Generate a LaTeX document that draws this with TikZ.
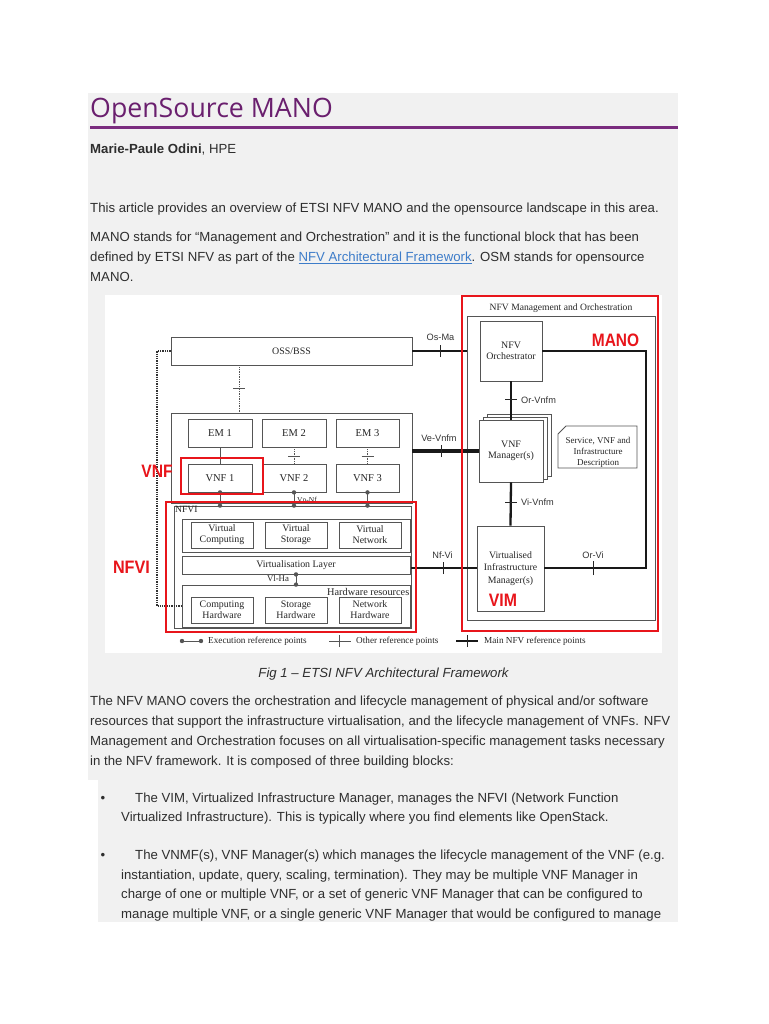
\documentclass[tikz,border=0pt]{standalone}
\usepackage{fontspec}
\setmainfont{Liberation Sans}
\newfontfamily\titlefont{Open Sans}
\newfontfamily\figserif{Liberation Serif}
\usetikzlibrary{calc}
\definecolor{pagegrey}{HTML}{F1F1F1}
\definecolor{txt}{HTML}{2E2E2E}
\definecolor{purp}{HTML}{6A1F6E}
\definecolor{purpline}{HTML}{7A2C7E}
\definecolor{linkblue}{HTML}{3D7CC9}
\definecolor{boxline}{HTML}{555555}
\definecolor{redhl}{HTML}{E8151B}
\newcommand\rbx[7][]{\node[box,#1,minimum width={(#5-#3)*1pt},minimum height={(#6-#4)*1pt}] (#2) at ({(#3+#5)/2},{(#4+#6)/2}) {#7};}
\begin{document}
\begin{tikzpicture}[x=1pt,y=-1pt,
 body/.style={anchor=base west, inner sep=0, text=txt, font=\fontsize{13.2}{16}\selectfont},
 box/.style={draw=boxline, line width=0.8pt, inner sep=0, align=center, text=black!85, font=\figserif\fontsize{9.9}{11}\selectfont},
 hlbox/.style={draw=redhl, line width=2.2pt},
 hllabel/.style={text=redhl, inner sep=0, font=\bfseries\fontsize{18}{18}\selectfont},
 mainref/.style={line width=2.3pt, draw=black!90},
 otherref/.style={draw=boxline, line width=0.7pt, densely dotted},
 execref/.style={draw=boxline, line width=0.9pt},
 tickline/.style={draw=black!85, line width=0.9pt},
 reflabel/.style={inner sep=0, text=black!80, font=\fontsize{9.2}{10}\selectfont},
 figtext/.style={inner sep=0, text=black!85, font=\figserif\fontsize{9.2}{10}\selectfont},
 dotend/.style={circle, fill=boxline, inner sep=0, minimum size=4.4pt},
]
\useasboundingbox (0,0) rectangle (768,1024);
\fill[white] (0,0) rectangle (768,1024);
\fill[pagegrey] (88,93) rectangle (678,780);
\fill[pagegrey] (98,780) rectangle (678,922);

% ---------- heading ----------
\node[anchor=base west, inner sep=0, text=purp, font=\titlefont\fontsize{26.7}{30}\selectfont] (title) at (90,117.5) {OpenSource MANO};
\coordinate (ruleL) at (90,127.5);
\coordinate (ruleR) at (678,127.5);
\draw[purpline, line width=3pt] (ruleL) -- (ruleR);
\node[body] (author) at (90,153.5) {\textbf{Marie-Paule Odini}, HPE};

\node[body] (p1) at (90,212.5) {This article provides an overview of ETSI NFV MANO and the opensource landscape in this area.};
\node[body] (p2a) at (90,241.5) {MANO stands for “Management and Orchestration” and it is the functional block that has been};
\node[body] (p2b) at (90,261.5) {defined by ETSI NFV as part of the \textcolor{linkblue}{\underline{NFV Architectural Framework}}. OSM stands for opensource};
\node[body] (p2c) at (90,281.5) {MANO.};

% ---------- figure ----------
\fill[white] (105,295) rectangle (662,653);

% left side
\rbx{oss}{171}{337}{412}{365}{OSS/BSS}
\rbx{vnfc}{171}{413}{412}{503}{}
\rbx[font=\figserif\fontsize{10.5}{12}\selectfont]{em1}{188}{419}{252}{447}{EM 1}
\rbx[font=\figserif\fontsize{10.5}{12}\selectfont]{em2}{262}{419}{326}{447}{EM 2}
\rbx[font=\figserif\fontsize{10.5}{12}\selectfont]{em3}{336}{419}{399}{447}{EM 3}
\rbx[font=\figserif\fontsize{10.5}{12}\selectfont]{vnf1}{188}{464}{252}{492}{VNF 1}
\rbx[font=\figserif\fontsize{10.5}{12}\selectfont]{vnf2}{262}{464}{326}{492}{VNF 2}
\rbx[font=\figserif\fontsize{10.5}{12}\selectfont]{vnf3}{336}{464}{399}{492}{VNF 3}
\rbx{nfvi}{174}{506}{411}{628}{}
\rbx{vres}{182}{519}{410}{552}{}
\rbx{vcomp}{191}{522}{253}{548}{Virtual\\Computing}
\rbx{vstor}{265}{522}{327}{548}{Virtual\\Storage}
\rbx{vnet}{339}{522}{401}{548}{Virtual\\Network}
\rbx{vlayer}{182}{556}{410}{574}{Virtualisation Layer}
\rbx{hwres}{182}{585}{410}{627}{}
\rbx{chw}{191}{597}{253}{623}{Computing\\Hardware}
\rbx{shw}{265}{597}{327}{623}{Storage\\Hardware}
\rbx{nhw}{339}{597}{401}{623}{Network\\Hardware}
\node[figtext, anchor=north west, font=\figserif\fontsize{9.6}{10}\selectfont] (nfvilbl) at (175,506.5) {NFVI};
\node[figtext, anchor=east, fill=white, inner xsep=1pt, font=\figserif\fontsize{10.3}{11}\selectfont] (hwlbl) at (410.5,591.5) {Hardware resources};

% MANO side
\rbx{manoin}{467}{316}{655}{620}{}
\node[figtext, font=\figserif\fontsize{9.6}{10}\selectfont] (manotitle) at (561,308) {NFV Management and Orchestration};
\rbx{orch}{480}{321}{542}{381}{NFV\\Orchestrator}
\rbx[fill=white]{vnfmb2}{487}{414}{551}{476}{}
\rbx[fill=white]{vnfmb1}{483}{417}{547}{479}{}
\rbx[fill=white]{vnfm}{479}{420}{543}{482}{VNF\\Manager(s)}
\coordinate (dA) at (566,426);
\coordinate (dB) at (637,426);
\coordinate (dC) at (637,468);
\coordinate (dD) at (558,468);
\coordinate (dE) at (558,434);
\draw[boxline, line width=0.8pt] (dA) -- (dB) -- (dC) -- (dD) -- (dE) -- cycle;
\node[figtext, align=center, font=\figserif\fontsize{9}{11}\selectfont] (desc) at (598,452) {Service, VNF and\\Infrastructure\\Description};
\rbx[font=\figserif\fontsize{9.8}{12.5}\selectfont]{vim}{477}{526}{544}{611}{Virtualised\\Infrastructure\\Manager(s)}

% ---------- reference points ----------
% Os-Ma
\draw[mainref, line width=2.8pt] (oss.east) -- (oss.east -| manoin.west);
\coordinate (tOsMa) at (440,351);
\draw[tickline] ([yshift=-6pt]tOsMa) -- ([yshift=6pt]tOsMa);
\node[reflabel] (lOsMa) at (440.5,337.5) {Os-Ma};
% Ve-Vnfm
\coordinate (yVe) at (0,451);
\draw[mainref, line width=4pt] (vnfc.east |- yVe) -- (vnfm.west |- yVe);
\coordinate (tVe) at (441,451);
\draw[tickline] ([yshift=-6pt]tVe) -- ([yshift=6pt]tVe);
\node[reflabel] (lVe) at (439,438) {Ve-Vnfm};
% Nf-Vi
\coordinate (yVi) at (0,568);
\draw[mainref] (nfvi.east |- yVi) -- (vim.west |- yVi);
\coordinate (tNf) at (443,568);
\draw[tickline] ([yshift=-6pt]tNf) -- ([yshift=6pt]tNf);
\node[reflabel] (lNf) at (442.5,555) {Nf-Vi};
% Or-Vi
\coordinate (orR) at (646,351);
\coordinate (viR) at (646,568);
\draw[mainref] (orch.east) -- (orR) -- (viR) -- (vim.east |- viR);
\coordinate (tOr) at (593,568);
\draw[tickline] ([yshift=-7pt]tOr) -- ([yshift=7pt]tOr);
\node[reflabel] (lOr) at (593,555.5) {Or-Vi};
% Or-Vnfm
\draw[mainref] (orch.south) -- (vnfm.north);
\coordinate (tOrV) at (511,399.5);
\draw[tickline] ([xshift=-6pt]tOrV) -- ([xshift=6pt]tOrV);
\node[reflabel, anchor=west] (lOrV) at (521,400) {Or-Vnfm};
% Vi-Vnfm
\draw[mainref] (vnfm.south) -- (vim.north);
\coordinate (tViV) at (511,502.5);
\draw[tickline] ([xshift=-6pt]tViV) -- ([xshift=6pt]tViV);
\node[reflabel, anchor=west] (lViV) at (521,502.5) {Vi-Vnfm};

% other reference points
\coordinate (xo) at (239,0);
\draw[otherref] (oss.south -| xo) -- (vnfc.north -| xo);
\coordinate (tOx) at (239,388);
\draw[tickline, draw=boxline, line width=0.8pt] ([xshift=-6pt]tOx) -- ([xshift=6pt]tOx);
\draw[boxline, line width=0.7pt] (em1.south) -- (vnf1.north);
\draw[otherref] (em2.south) -- (vnf2.north);
\coordinate (tE2) at (294,456);
\draw[tickline, draw=boxline, line width=0.8pt] ([xshift=-6pt]tE2) -- ([xshift=6pt]tE2);
\draw[otherref] (em3.south) -- (vnf3.north);
\coordinate (tE3) at (367.5,456);
\draw[tickline, draw=boxline, line width=0.8pt] ([xshift=-6pt]tE3) -- ([xshift=6pt]tE3);

% OSS to hardware (dotted)
\coordinate (dL1) at (157,351);
\coordinate (dL2) at (157,606);
\draw[black!80, densely dotted, line width=1.3pt] (oss.west) -- (dL1) -- (dL2) -- (hwres.west |- dL2);

% execution reference points
\foreach \v in {vnf1,vnf2,vnf3}{
  \draw[execref] (\v.south) -- (\v.south |- nfvi.north);
  \node[dotend] at (\v.south) {};
  \node[dotend] at (\v.south |- nfvi.north) {};
}
\node[figtext, font=\figserif\fontsize{7.5}{8}\selectfont] (lVn) at (307,499.5) {Vn-Nf};
\coordinate (xv) at (296,0);
\draw[execref] (vlayer.south -| xv) -- (hwres.north -| xv);
\node[dotend] at (vlayer.south -| xv) {};
\node[dotend] at (hwres.north -| xv) {};
\node[figtext, font=\figserif\fontsize{8.8}{9}\selectfont] (lVl) at (278,578.5) {Vl-Ha};

% legend
\coordinate (lg1a) at (182,641);
\coordinate (lg1b) at (201,641);
\draw[execref] (lg1a) -- (lg1b);
\node[dotend] at (lg1a) {};
\node[dotend] at (lg1b) {};
\node[figtext, anchor=west] (lgt1) at (208,641.5) {Execution reference points};
\coordinate (lg2a) at (329,641);
\coordinate (lg2b) at (351,641);
\coordinate (lg2t) at (339,641);
\draw[boxline, line width=0.8pt] (lg2a) -- (lg2b);
\draw[boxline, line width=0.8pt] ([yshift=-6pt]lg2t) -- ([yshift=6pt]lg2t);
\node[figtext, anchor=west] (lgt2) at (356,641.5) {Other reference points};
\coordinate (lg3a) at (456,641);
\coordinate (lg3b) at (478,641);
\coordinate (lg3t) at (467,641);
\draw[mainref] (lg3a) -- (lg3b);
\draw[tickline] ([yshift=-6pt]lg3t) -- ([yshift=6pt]lg3t);
\node[figtext, anchor=west] (lgt3) at (484,641.5) {Main NFV reference points};

% red highlights
\rbx[hlbox]{vnfhl}{181}{458}{263}{494}{}
\rbx[hlbox]{nfvihl}{166}{502}{416}{632}{}
\rbx[hlbox]{manohl}{462}{296}{658}{631}{}
\node[hllabel] (lvnf) at (157,471.5) {\scalebox{0.87}[1]{VNF}};
\node[hllabel] (lnfvi) at (131.5,567) {\scalebox{0.9}[1]{NFVI}};
\node[hllabel] (lmano) at (615.5,340.5) {\scalebox{0.86}[1]{MANO}};
\node[hllabel] (lvim) at (503,600.5) {\scalebox{0.88}[1]{VIM}};

% ---------- text below ----------
\node[body, anchor=base, font=\itshape\fontsize{13.2}{16}\selectfont] (cap) at (383.5,677.5) {Fig 1 – ETSI NFV Architectural Framework};
\node[body] (p3a) at (90,705.5) {The NFV MANO covers the orchestration and lifecycle management of physical and/or software};
\node[body] (p3b) at (90,725.5) {resources that support the infrastructure virtualisation, and the lifecycle management of VNFs. NFV};
\node[body] (p3c) at (90,745.5) {Management and Orchestration focuses on all virtualisation-specific management tasks necessary};
\node[body] (p3d) at (90,765.5) {in the NFV framework. It is composed of three building blocks:};
\node[body, anchor=base] (bul1) at (103,802.5) {•};
\node[body] (b1a) at (135,802.5) {The VIM, Virtualized Infrastructure Manager, manages the NFVI (Network Function};
\node[body] (b1b) at (121,821.5) {Virtualized Infrastructure). This is typically where you find elements like OpenStack.};
\node[body, anchor=base] (bul2) at (103,859.5) {•};
\node[body] (b2a) at (135,859.5) {The VNMF(s), VNF Manager(s) which manages the lifecycle management of the VNF (e.g.};
\node[body] (b2b) at (121,879) {instantiation, update, query, scaling, termination). They may be multiple VNF Manager in};
\node[body] (b2c) at (121,898.5) {charge of one or multiple VNF, or a set of generic VNF Manager that can be configured to};
\node[body] (b2d) at (121,918) {manage multiple VNF, or a single generic VNF Manager that would be configured to manage};
\end{tikzpicture}
\end{document}
